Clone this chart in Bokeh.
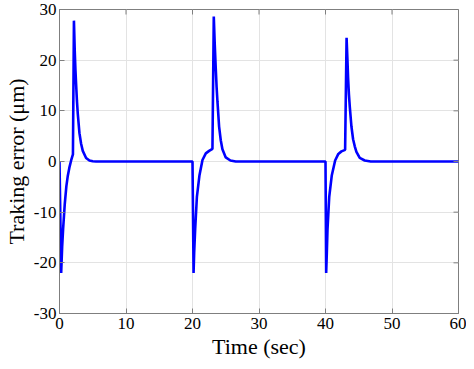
import math
from bokeh.plotting import figure
from bokeh.models import Range1d, FixedTicker
from bokeh.embed import file_html
from bokeh.resources import INLINE

# Time samples (sec) and tracking error (um)
time_s = [0.0, 0.25, 0.4, 0.54, 0.79, 1.03, 1.25, 1.52, 1.75, 1.95, 2.02, 2.17, 2.3, 2.4, 2.5, 2.62, 2.75, 3.0, 3.25, 3.5, 4.0, 4.5, 5.0, 5.5,
          20.0, 20.16, 20.25, 20.4, 20.66, 21.05, 21.5, 22.0, 22.5, 23.0, 23.2, 23.35, 23.5, 23.62, 23.75, 24.0, 24.25, 24.5, 25.0, 25.7, 26.5,
          40.0, 40.1, 40.2, 40.3, 40.56, 40.95, 41.45, 41.93, 42.4, 42.95, 43.17, 43.3, 43.4, 43.52, 43.66, 43.9, 44.15, 44.4, 44.65, 45.15, 45.9, 46.8,
          60.0]
error_um = [0.0, -22.0, -16.8, -13.4, -8.4, -4.9, -2.8, -1.0, 0.2, 1.1, 1.4, 27.8, 21.5, 18.0, 15.2, 12.0, 9.4, 5.6, 3.5, 2.1, 0.7, 0.2, 0.05, 0.0,
            0.0, -22.0, -18.0, -13.4, -7.0, -2.7, 0.3, 1.6, 2.1, 2.5, 28.6, 23.0, 18.3, 14.8, 11.9, 6.9, 4.2, 2.4, 0.8, 0.2, 0.0,
            0.0, -22.0, -18.0, -13.4, -7.0, -2.7, 0.2, 1.5, 2.0, 2.3, 24.4, 20.0, 16.4, 13.3, 10.7, 6.9, 4.4, 3.0, 1.9, 0.7, 0.2, 0.0,
            0.0]

x_ticks = [0, 10, 20, 30, 40, 50, 60]
y_ticks = [-30, -20, -10, 0, 10, 20, 30]
x_limits = (0, 60)
y_limits = (-30, 30)

FONT = "Liberation Serif"
AX_COLOR = "#7f7f7f"

p = figure(width=466, height=361, output_backend="svg", toolbar_location=None,
           x_range=Range1d(*x_limits), y_range=Range1d(*y_limits),
           min_border_left=0, min_border_right=8, min_border_top=9, min_border_bottom=0)

p.line(time_s, error_um, line_color="#0000ff", line_width=2.6)

# inward ticks on the top and right edges of the box
p.scatter(x_ticks, [y_limits[1]] * len(x_ticks), marker="dash", angle=math.pi / 2,
          size=10, line_color=AX_COLOR, line_width=1)
p.scatter([x_limits[1]] * len(y_ticks), y_ticks, marker="dash",
          size=10, line_color=AX_COLOR, line_width=1)

p.xaxis.ticker = FixedTicker(ticks=x_ticks)
p.yaxis.ticker = FixedTicker(ticks=y_ticks)
p.xaxis.major_label_overrides = {v: str(v) for v in x_ticks}
p.yaxis.major_label_overrides = {v: str(v) for v in y_ticks}
p.xaxis.axis_label = "Time (sec)"
p.yaxis.axis_label = "Traking error (μm)"

p.axis.axis_label_text_font = FONT
p.axis.axis_label_text_font_style = "normal"
p.axis.axis_label_text_font_size = "22px"
p.axis.axis_label_text_color = "#000000"
p.axis.major_label_text_font = FONT
p.axis.major_label_text_font_size = "17px"
p.axis.major_label_text_color = "#000000"
p.axis.axis_line_color = AX_COLOR
p.axis.major_tick_line_color = AX_COLOR
p.axis.major_tick_in = 5
p.axis.major_tick_out = 0
p.axis.minor_tick_line_color = None
p.xaxis.axis_label_standoff = 2
p.yaxis.axis_label_standoff = 2
p.xaxis.major_label_standoff = 4
p.yaxis.major_label_standoff = 3

p.xgrid.grid_line_color = "#e3e3e3"
p.ygrid.grid_line_color = "#e3e3e3"
p.outline_line_color = AX_COLOR
p.background_fill_color = "white"
p.border_fill_color = "white"

open("out.html", "w").write(file_html(p, INLINE))
